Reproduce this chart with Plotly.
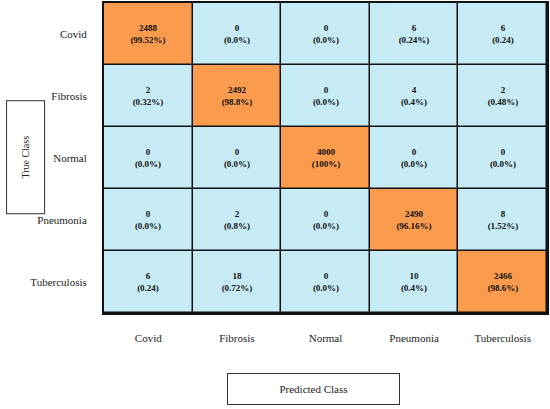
import plotly.graph_objects as go

classes = ["Covid", "Fibrosis", "Normal", "Pneumonia", "Tuberculosis"]
counts = [
    [2488, 0, 0, 6, 6],
    [2, 2492, 0, 4, 2],
    [0, 0, 4000, 0, 0],
    [0, 2, 0, 2490, 8],
    [6, 18, 0, 10, 2466],
]
percents = [
    ["99.52%", "0.0%", "0.0%", "0.24%", "0.24"],
    ["0.32%", "98.8%", "0.0%", "0.4%", "0.48%"],
    ["0.0%", "0.0%", "100%", "0.0%", "0.0%"],
    ["0.0%", "0.8%", "0.0%", "96.16%", "1.52%"],
    ["0.24", "0.72%", "0.0%", "0.4%", "98.6%"],
]

n = len(classes)
z = [[1 if i == j else 0 for j in range(n)] for i in range(n)]
text = [[f"<b>{counts[i][j]}</b><br><b>({percents[i][j]})</b>" for j in range(n)] for i in range(n)]

FONT = "Liberation Serif, Times New Roman, serif"
ORANGE = "#FA9B4D"
BLUE = "#C6EBF5"

fig = go.Figure(go.Heatmap(
    z=z, x=classes, y=classes,
    text=text, texttemplate="%{text}",
    textfont=dict(family=FONT, size=9, color="#111"),
    colorscale=[[0, BLUE], [0.5, BLUE], [0.5, ORANGE], [1, ORANGE]],
    zmin=0, zmax=1, showscale=False, hoverinfo="skip",
    xgap=1.5, ygap=1.5,
))

fig.update_layout(
    width=550, height=409,
    margin=dict(l=104, r=3, t=3, b=96, autoexpand=False),
    paper_bgcolor="white", plot_bgcolor="#111",
    font=dict(family=FONT, size=11, color="#222"),
    xaxis=dict(showgrid=False, zeroline=False, ticks="", ticklabelstandoff=14,
               showline=True, linecolor="#111", linewidth=2, mirror=True,
               tickfont=dict(family=FONT, size=11, color="#222")),
    yaxis=dict(showgrid=False, zeroline=False, ticks="", autorange="reversed",
               ticklabelstandoff=13,
               showline=True, linecolor="#111", linewidth=2, mirror=True,
               tickfont=dict(family=FONT, size=11, color="#222")),
    annotations=[
        dict(text="True Class", xref="paper", yref="paper", x=-0.178, y=0.503,
             xanchor="center", yanchor="middle",
             textangle=-90, showarrow=False, width=110, height=35,
             bordercolor="#333", borderwidth=1, bgcolor="white",
             font=dict(family=FONT, size=10, color="#222")),
        dict(text="Predicted Class", xref="paper", yref="paper", x=0.473, y=-0.245,
             xanchor="center", yanchor="middle",
             showarrow=False, width=169, height=28, align="center",
             bordercolor="#333", borderwidth=1, bgcolor="white",
             font=dict(family=FONT, size=11, color="#222")),
    ],
)

fig.write_html("out.html", config={"displayModeBar": False},
               post_script="document.body.style.margin='0';")
